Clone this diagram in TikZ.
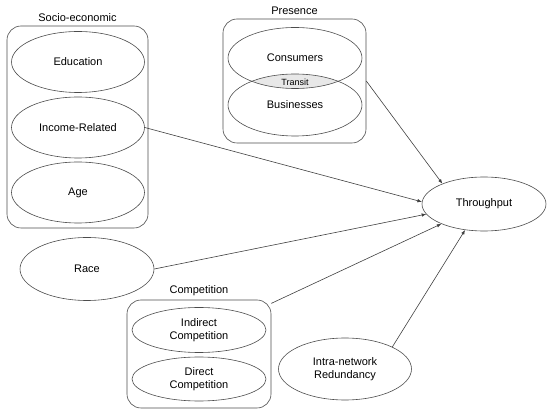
\documentclass[tikz,border=0pt]{standalone}
\usepackage{fontspec}
\setmainfont{Liberation Sans}
\usetikzlibrary{arrows.meta,positioning,shapes.geometric}

\begin{document}
\begin{tikzpicture}[x = 1pt, y = -1pt,
    group/.style = {draw = black!70, line width = 0.6pt, rounded corners = 14pt, inner sep = 0pt},
    oval/.style = {ellipse, draw = black!70, line width = 0.6pt, inner sep = 0pt, align = center,
        font = \fontsize{11}{13}\selectfont},
    grouplabel/.style = {inner sep = 1pt, font = \fontsize{11}{13}\selectfont},
    link/.style = {draw = black!75, line width = 0.6pt, -{Latex[length = 4.5pt, width = 3.5pt]}}
]

        \useasboundingbox (0, 0) rectangle (550, 414);

        % Centres of the two overlapping ellipses.
        \coordinate (C0) at (295, 58);
        \coordinate (B0) at (295, 105);

        % The shaded overlap.
        \begin{scope}
            \clip (C0) ellipse [x radius = 67pt, y radius = 30.5pt];
            \fill[gray!18] (B0) ellipse [x radius = 67pt, y radius = 31pt];
        \end{scope}

        % The socio-economic group.
        \node[group, minimum width = 141pt, minimum height = 202pt] (soc) at (77.5, 127) {};
        \node[grouplabel, above = 3pt of soc] (soclabel) {Socio-economic};
        \node[oval, minimum width = 133pt, minimum height = 61pt] (edu) at (78, 62) {Education};
        \node[oval, minimum width = 133pt, minimum height = 61pt] (inc) at (78, 127.5) {Income-Related};
        \node[oval, minimum width = 133pt, minimum height = 61pt] (age) at (78, 192.5) {Age};

        % The presence group.
        \node[group, minimum width = 143pt, minimum height = 124pt] (pres) at (294.5, 81) {};
        \node[grouplabel, above = 3pt of pres] (preslabel) {Presence};
        \node[oval, minimum width = 134pt, minimum height = 61pt] (cons) at (C0) {Consumers};
        \node[oval, minimum width = 134pt, minimum height = 62pt] (bus) at (B0) {Businesses};
        \node[inner sep = 0pt, font = \fontsize{9}{10}\selectfont] (trans) at (295, 82) {Transit};

        % The competition group.
        \node[group, minimum width = 144pt, minimum height = 108pt] (comp) at (199, 354) {};
        \node[grouplabel, above = 3pt of comp] (complabel) {Competition};
        \node[oval, minimum width = 134pt, minimum height = 45pt] (indir) at (199, 330) {Indirect\\Competition};
        \node[oval, minimum width = 134pt, minimum height = 44pt] (dir) at (199, 379) {Direct\\Competition};

        % Single factors.
        \node[oval, minimum width = 134pt, minimum height = 63pt] (race) at (87, 269) {Race};
        \node[oval, minimum width = 133pt, minimum height = 62pt] (redun) at (345, 369) {Intra-network\\Redundancy};
        \node[oval, minimum width = 124pt, minimum height = 54pt] (thru) at (484, 204) {Throughput};

        % Everything points at the throughput.
        \draw[link] (inc.east) to (thru.178);
        \draw[link] (pres.east) to (thru.154);
        \draw[link] (race.east) to (thru.190);
        \draw[link] (comp.35) to (thru.205);
        \draw[link] (redun.25) to (thru.234);
    \end{tikzpicture}
\end{document}
